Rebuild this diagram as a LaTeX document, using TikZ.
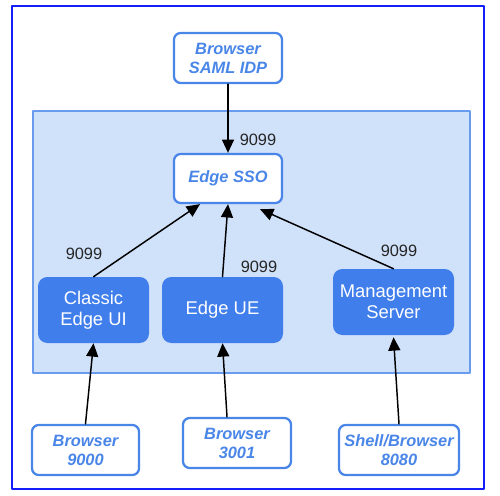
\documentclass[tikz,border=0pt]{standalone}
\usepackage{fontspec}
\setmainfont{Liberation Sans}
\usetikzlibrary{arrows.meta,positioning}
\definecolor{boxblue}{RGB}{74,134,232}
\definecolor{fillblue}{RGB}{64,126,236}
\definecolor{zoneblue}{RGB}{208,225,250}
\definecolor{zoneline}{RGB}{105,155,238}
\definecolor{frameblue}{RGB}{20,30,250}
\tikzstyle{every path}=[line cap=round,line join=round]
\tikzstyle{client}=[draw=boxblue,fill=white,line width=1.7pt,rounded corners=5pt,
  text=boxblue,align=center,inner sep=0pt,minimum height=37.5pt,
  font=\fontsize{12.3}{14.25}\selectfont\bfseries\itshape]
\tikzstyle{service}=[fill=fillblue,rounded corners=7pt,text=white,align=center,
  inner sep=0pt,minimum height=49.5pt,font=\fontsize{13.8}{15.75}\selectfont]
\tikzstyle{port}=[font=\fontsize{12.3}{13}\selectfont,text=black!85]
\tikzstyle{conn}=[line width=1.1pt,-{Triangle[length=10pt,width=9pt]}]

\begin{document}
\begin{tikzpicture}[x=0.75pt,y=-0.75pt]
  \useasboundingbox (0,0) rectangle (500,496);
  \draw[frameblue,line width=1.2pt] (12,6) rectangle (484,489);
  \draw[zoneline,fill=zoneblue,line width=0.9pt] (33,111) rectangle (470,373);

  % nodes
  \node[client,minimum width=81pt] (saml) at (228,58) {Browser\\SAML IDP};
  \node[client,minimum width=81pt,minimum height=36.75pt] (sso) at (228,178.5) {Edge SSO};
  \node[service,minimum width=83.25pt] (classic) at (93.5,310) {Classic\\Edge UI};
  \node[service,minimum width=90.75pt] (ue) at (222.5,310) {Edge UE};
  \node[service,minimum width=90.75pt] (mgmt) at (393.5,302) {Management\\Server};
  \node[client,minimum width=80.25pt] (b9000) at (85.5,450) {Browser\\9000};
  \node[client,minimum width=81pt] (b3001) at (237,443) {Browser\\3001};
  \node[client,minimum width=90pt] (shell) at (399,450) {Shell/Browser\\8080};

  % connectors
  \draw[conn] (saml) -- (sso);
  \draw[conn] (classic.north) -- ([xshift=-21pt]sso.south);
  \draw[conn] (ue.north) -- (sso.south);
  \draw[conn] (mgmt.north) -- ([xshift=24pt,yshift=-3.75pt]sso.south);
  \draw[conn] (b9000.north) -- (classic.south);
  \draw[conn] ([xshift=-7.5pt]b3001.north) -- (ue.south);
  \draw[conn] (shell.north) -- ([yshift=-1.5pt]mgmt.south);

  % ports
  \node[port] (p1) at (258,140) {9099};
  \node[port] (p2) at (84,254) {9099};
  \node[port] (p3) at (259,267) {9099};
  \node[port] (p4) at (399,251) {9099};
\end{tikzpicture}
\end{document}
